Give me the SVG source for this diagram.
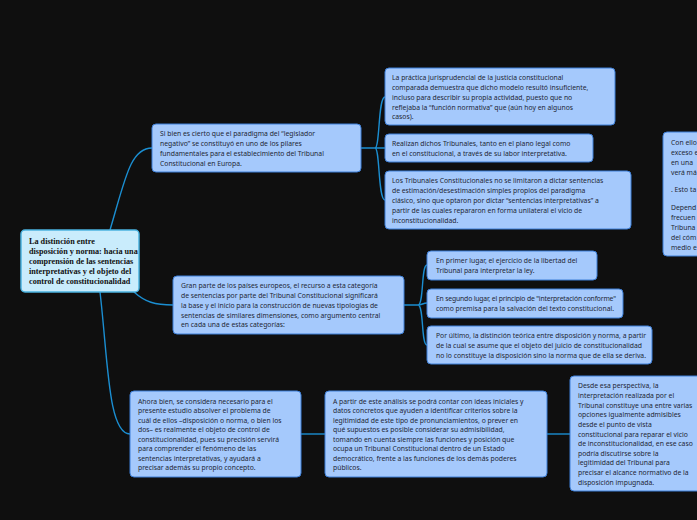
<svg xmlns="http://www.w3.org/2000/svg" width="697" height="520" viewBox="0 0 697 520">
<style>
.n{fill:#a5c9fc;stroke:#3d7fd8;stroke-width:1}
.r{fill:#c9ecfc;stroke:#4bb3e0;stroke-width:1.5}
.t{font-family:"Noto Sans","Open Sans",sans-serif;font-size:6.8px;fill:#1e2633}
.rt{font-family:"Liberation Serif",serif;font-size:8.2px;font-weight:bold;fill:#111}
.c{fill:none;stroke:#1b8ed1;stroke-width:1.4}
</style>
<rect width="697" height="520" fill="#0f0f0f"/>
<g id="connectors">
<path class="c" d="M110,230 C125,180 130,148 152,148"/>
<path class="c" d="M134,292 C145,302 155,305 173,305"/>
<path class="c" d="M100,292 C108,360 108,434 130,434"/>
<path class="c" d="M361,148 H375 M375,148 C380,148 378,97 385,97 M375,148 H385 M375,148 C380,148 378,200 385,200"/>
<path class="c" d="M404,305 H418 M418,305 C424,305 421,265 427,265 M418,305 C422,305 423,303 427,303 M418,305 C424,305 421,345 427,345"/>
<path class="c" d="M301,434 H325"/>
<path class="c" d="M547,434 H570"/>
</g>
<g id="root"><rect class="r" x="21" y="230" width="118" height="62" rx="4"/>
<text class="rt" x="29" y="244">La distinción entre</text>
<text class="rt" x="29" y="254">disposición y norma: hacia una</text>
<text class="rt" x="29" y="264">comprensión de las sentencias</text>
<text class="rt" x="29" y="274">interpretativas y el objeto del</text>
<text class="rt" x="29" y="284">control de constitucionalidad</text></g>
<g id="nA"><rect class="n" x="152" y="124" width="209" height="48" rx="4"/>
<text class="t" x="160" y="136">Si bien es cierto que el paradigma del “legislador</text>
<text class="t" x="160" y="146">negativo” se constituyó en uno de los pilares</text>
<text class="t" x="160" y="156">fundamentales para el establecimiento del Tribunal</text>
<text class="t" x="160" y="166">Constitucional en Europa.</text></g>
<g id="nA1"><rect class="n" x="385" y="68" width="230" height="57" rx="4"/>
<text class="t" x="392" y="80">La práctica jurisprudencial de la justicia constitucional</text>
<text class="t" x="392" y="90">comparada demuestra que dicho modelo resultó insuficiente,</text>
<text class="t" x="392" y="100">incluso para describir su propia actividad, puesto que no</text>
<text class="t" x="392" y="110">reflejaba la “función normativa” que (aún hoy en algunos</text>
<text class="t" x="392" y="119">casos).</text></g>
<g id="nA2"><rect class="n" x="385" y="134" width="208" height="28" rx="4"/>
<text class="t" x="392" y="146">Realizan dichos Tribunales, tanto en el plano legal como</text>
<text class="t" x="392" y="156">en el constitucional, a través de su labor interpretativa.</text></g>
<g id="nA3"><rect class="n" x="385" y="171" width="246" height="58" rx="4"/>
<text class="t" x="392" y="183">Los Tribunales Constitucionales no se limitaron a dictar sentencias</text>
<text class="t" x="392" y="193">de estimación/desestimación simples propios del paradigma</text>
<text class="t" x="392" y="203">clásico, sino que optaron por dictar “sentencias interpretativas” a</text>
<text class="t" x="392" y="213">partir de las cuales repararon en forma unilateral el vicio de</text>
<text class="t" x="392" y="223">inconstitucionalidad.</text></g>
<g id="nD"><rect class="n" x="663" y="132" width="50" height="124" rx="4"/>
<text class="t" x="671" y="145">Con ello</text>
<text class="t" x="671" y="155">exceso e</text>
<text class="t" x="671" y="165">en una</text>
<text class="t" x="671" y="175">verá má</text>
<text class="t" x="671" y="192">. Esto ta</text>
<text class="t" x="671" y="210">Depend</text>
<text class="t" x="671" y="220">frecuen</text>
<text class="t" x="671" y="230">Tribuna</text>
<text class="t" x="671" y="240">del cóm</text>
<text class="t" x="671" y="250">medio e</text></g>
<g id="nB"><rect class="n" x="173" y="276" width="231" height="58" rx="4"/>
<text class="t" x="181" y="288">Gran parte de los países europeos, el recurso a esta categoría</text>
<text class="t" x="181" y="298">de sentencias por parte del Tribunal Constitucional significará</text>
<text class="t" x="181" y="308">la base y el inicio para la construcción de nuevas tipologías de</text>
<text class="t" x="181" y="318">sentencias de similares dimensiones,  como argumento central</text>
<text class="t" x="181" y="327">en cada una de estas categorías:</text></g>
<g id="nB1"><rect class="n" x="427" y="251" width="170" height="29" rx="4"/>
<text class="t" x="436" y="263">En primer lugar, el ejercicio de la libertad del</text>
<text class="t" x="436" y="273">Tribunal para interpretar la ley.</text></g>
<g id="nB2"><rect class="n" x="427" y="289" width="196" height="29" rx="4"/>
<text class="t" x="436" y="301" textLength="180">En segundo lugar, el principio de "interpretación conforme"</text>
<text class="t" x="436" y="311">como premisa para la salvación del texto constitucional.</text></g>
<g id="nB3"><rect class="n" x="427" y="326" width="225" height="38" rx="4"/>
<text class="t" x="436" y="338" textLength="210">Por último, la distinción teórica entre disposición y norma, a partir</text>
<text class="t" x="436" y="348">de la cual se asume que el objeto del juicio de constitucionalidad</text>
<text class="t" x="436" y="358" textLength="210">no lo constituye la disposición sino la norma que de ella se deriva.</text></g>
<g id="nC"><rect class="n" x="130" y="391" width="171" height="86" rx="4"/>
<text class="t" x="138" y="404">Ahora bien, se considera necesario para el</text>
<text class="t" x="138" y="413">presente estudio absolver el problema de</text>
<text class="t" x="138" y="423">cuál de ellos –disposición o norma, o bien los</text>
<text class="t" x="138" y="432">dos– es realmente el objeto de control de</text>
<text class="t" x="138" y="442">constitucionalidad, pues su precisión servirá</text>
<text class="t" x="138" y="451">para comprender el fenómeno de las</text>
<text class="t" x="138" y="461">sentencias interpretativas, y ayudará a</text>
<text class="t" x="138" y="470">precisar además su propio concepto.</text></g>
<g id="nC1"><rect class="n" x="325" y="391" width="222" height="86" rx="4"/>
<text class="t" x="333" y="404">A partir de este análisis se podrá contar con ideas iniciales y</text>
<text class="t" x="333" y="413">datos concretos que ayuden a identificar criterios sobre la</text>
<text class="t" x="333" y="423">legitimidad de este tipo de pronunciamientos, o prever en</text>
<text class="t" x="333" y="432">qué supuestos es posible considerar su admisibilidad,</text>
<text class="t" x="333" y="442">tomando en cuenta siempre las funciones y posición que</text>
<text class="t" x="333" y="451">ocupa un Tribunal Constitucional dentro de un Estado</text>
<text class="t" x="333" y="461">democrático, frente a las funciones de los demás poderes</text>
<text class="t" x="333" y="470">públicos.</text></g>
<g id="nC2"><rect class="n" x="570" y="376" width="140" height="115" rx="4"/>
<text class="t" x="578" y="388">Desde esa perspectiva, la</text>
<text class="t" x="578" y="398">interpretación realizada por el</text>
<text class="t" x="578" y="408">Tribunal constituye una entre varias</text>
<text class="t" x="578" y="417">opciones igualmente admisibles</text>
<text class="t" x="578" y="427">desde el punto de vista</text>
<text class="t" x="578" y="437">constitucional para reparar el vicio</text>
<text class="t" x="578" y="446">de inconstitucionalidad, en ese caso</text>
<text class="t" x="578" y="456">podría discutirse sobre la</text>
<text class="t" x="578" y="465">legitimidad del Tribunal para</text>
<text class="t" x="578" y="475">precisar el alcance normativo de la</text>
<text class="t" x="578" y="485">disposición impugnada.</text></g>
</svg>
